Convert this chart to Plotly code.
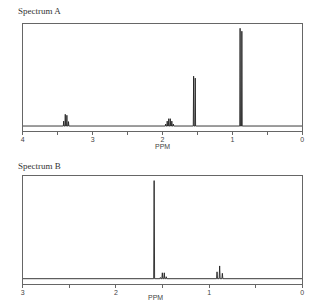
import plotly.graph_objects as go

# Spectrum A peak list (ppm, relative intensity)
a_ppm = [3.4145, 3.3915, 3.3685, 3.3455,
         1.955, 1.933, 1.911, 1.889, 1.867, 1.845,
         1.555, 1.532,
         0.890, 0.865]
a_int = [0.05, 0.12, 0.11, 0.045,
         0.02, 0.05, 0.075, 0.075, 0.05, 0.02,
         0.51, 0.49,
         1.0, 0.97]

# Spectrum B peak list
b_ppm = [1.59,
         1.523, 1.502, 1.481, 1.460,
         0.915, 0.887, 0.858]
b_int = [1.0,
         0.012, 0.06, 0.06, 0.02,
         0.07, 0.13, 0.055]

a_range = [4, 0]
b_range = [3, 0]
a_ticks = [4, 3, 2, 1, 0]
b_ticks = [3, 2, 1, 0]
titles = ["Spectrum A", "Spectrum B"]
xlabel = "PPM"

HW = 0.005  # half width of drawn line shape (ppm)


def stick_trace(ppm, inten, lo, hi):
    pairs = sorted(zip(ppm, inten), reverse=True)
    xs, ys = [hi], [0]
    for p, h in pairs:
        xs += [p + HW, p, p - HW]
        ys += [0, h, 0]
    xs.append(lo)
    ys.append(0)
    return xs, ys


fig = go.Figure()
ax, ay = stick_trace(a_ppm, a_int, 0, 4)
bx, by = stick_trace(b_ppm, b_int, 0, 3)
line = dict(color="#222", width=0.9)
fig.add_trace(go.Scatter(x=ax, y=ay, mode="lines", line=line, xaxis="x", yaxis="y", hoverinfo="skip"))
fig.add_trace(go.Scatter(x=bx, y=by, mode="lines", line=line, xaxis="x2", yaxis="y2", hoverinfo="skip"))

xdom = [21 / 329, 304 / 329]
ya = [1 - 131 / 302, 1 - 23.7 / 302]
yb = [1 - 283.7 / 302, 1 - 176 / 302]
yr = [-0.051, 1.047]

common_x = dict(showgrid=False, zeroline=False, showline=True, linecolor="#666", linewidth=1,
                mirror=True, ticks="outside", ticklen=3, tickcolor="#666",
                minor=dict(dtick=0.5, ticks="outside", ticklen=3, tickcolor="#666"),
                ticklabelstandoff=-1,
                tickfont=dict(family="Liberation Sans", size=7, color="#444"), dtick=1)
common_y = dict(showgrid=False, zeroline=False, showline=True, linecolor="#666", linewidth=1,
                mirror=True, showticklabels=False, ticks="", range=yr)

fig.update_layout(
    width=329, height=302, margin=dict(l=0, r=0, t=0, b=0),
    paper_bgcolor="white", plot_bgcolor="white", showlegend=False,
    xaxis=dict(common_x, domain=xdom, range=a_range, anchor="y", tickvals=a_ticks),
    yaxis=dict(common_y, domain=ya, anchor="x"),
    xaxis2=dict(common_x, domain=xdom, range=b_range, anchor="y2", tickvals=b_ticks),
    yaxis2=dict(common_y, domain=yb, anchor="x2"),
    annotations=[
        dict(text=titles[0], x=14 / 329, y=1 - 11 / 302, xref="paper", yref="paper",
             xanchor="left", yanchor="middle", showarrow=False,
             font=dict(family="Liberation Serif", size=9, color="#333")),
        dict(text=titles[1], x=14 / 329, y=1 - 165.5 / 302, xref="paper", yref="paper",
             xanchor="left", yanchor="middle", showarrow=False,
             font=dict(family="Liberation Serif", size=9, color="#333")),
        dict(text=xlabel, x=162 / 329, y=1 - 146.5 / 302, xref="paper", yref="paper",
             xanchor="center", yanchor="middle", showarrow=False,
             font=dict(family="Liberation Sans", size=7, color="#444")),
        dict(text=xlabel, x=155 / 329, y=1 - 297 / 302, xref="paper", yref="paper",
             xanchor="center", yanchor="middle", showarrow=False,
             font=dict(family="Liberation Sans", size=7, color="#444")),
    ],
)

fig.write_html("out.html")
